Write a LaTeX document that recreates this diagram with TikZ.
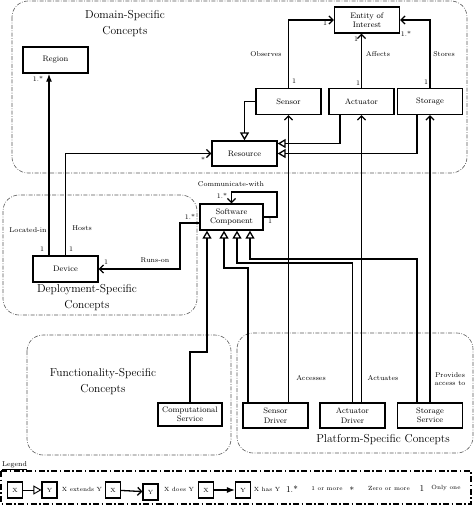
\documentclass[tikz,border=0pt]{standalone}
\usetikzlibrary{arrows.meta}
\usetikzlibrary{positioning}
\begin{document}
\begin{tikzpicture}
[every node/.style={font=\fontsize{8}{9.5}\selectfont},x=1pt,y=-1pt,
  ext/.style = {-{Triangle[open,length=8pt,width=9pt]},line width=1.3pt},
  does/.style = {-{Straight Barb[length=4pt,width=8pt]},line width=1.3pt},
  has/.style = {-{Latex[length=8pt,width=6pt]},line width=1.3pt},
  b/.style = {rectangle,draw,line width=1.3pt,minimum width=65pt,
        minimum height=26pt,align=center,inner sep=1pt},
  lb/.style = {rectangle,draw,line width=1.1pt,minimum width=15pt,
        minimum height=16pt,inner sep=0pt,font=\fontsize{6}{7}\selectfont},
  area/.style = {draw=black!65,rounded corners=16pt,line width=0.6pt,
        dash pattern=on 4pt off 1.5pt on 0.8pt off 1.5pt},
  ttl/.style = {font=\fontsize{11.5}{16}\selectfont,align=center},
  m/.style = {font=\scriptsize,inner sep=0pt},
  lt/.style = {inner sep=0pt,font=\fontsize{6}{7}\selectfont}]

\useasboundingbox (0,0) rectangle (474,506);

% concept areas
\draw[area] (12,1) rectangle (467,173);
\draw[area] (3,195) rectangle (197,315);
\draw[area] (27,335) rectangle (231,455);
\draw[area] (237,333) rectangle (473,453);

\node[ttl] (dom) at (125,24) {Domain-Specific\\Concepts};
\node[ttl] (dep) at (87,298) {Deployment-Specific\\Concepts};
\node[ttl] (fun) at (103,382) {Functionality-Specific\\Concepts};
\node[ttl] (pla) at (383,440) {Platform-Specific Concepts};

% concepts
\node[b] (ent) at (367,20) {Entity of\\Interest};
\node[b] (region) at (55.5,60) {Region};
\node[b] (sensor) at (288.5,101.5) {Sensor};
\node[b] (actuator) at (361.5,101.5) {Actuator};
\node[b] (storage) at (430,101.5) {Storage};
\node[b,minimum height=25pt] (resource) at (244.5,153.5) {Resource};
\node[b,minimum width=63pt] (swc) at (231.5,217) {Software\\Component};
\node[b] (device) at (65.5,269) {Device};
\node[b,minimum width=64pt,minimum height=23pt] (comp) at (190,414.5) {Computational\\Service};
\node[b,minimum height=25pt] (sdrv) at (275.5,415.5) {Sensor\\Driver};
\node[b,minimum height=25pt] (adrv) at (352.5,415.5) {Actuator\\Driver};
\node[b,minimum height=25pt] (ssrv) at (430,415.5) {Storage\\Service};

% domain relations
\draw[does] (sensor.north) |- (ent.west);
\draw[does] (actuator.north) -- (actuator.north |- ent.south);
\draw[does] (storage.north) |- (ent.east);
\draw[ext] (sensor.west) -| (resource.north);
\draw[ext] ([xshift=-21.5pt]actuator.south) |- ([yshift=10pt]resource.east);
\draw[ext] ([xshift=-13pt]storage.south) |- (resource.east);

\node[m] (obs) at (266,54) {Observes};
\node[m] (aff) at (378,54) {Affects};
\node[m] (sto) at (444,54) {Stores};
\node[m] (obs-a) at (325,23) {1};
\node[m] (obs-b) at (294,81) {1};
\node[m] (aff-a) at (356,39) {1};
\node[m] (aff-b) at (358,83) {1};
\node[m] (sto-a) at (406,34) {1.*};
\node[m] (sto-b) at (426,82) {1};

% deployment relations
\coordinate (li) at ([xshift=-16.5pt]device.north);
\draw[has] (li) -- (li |- region.south);
\draw[does] (device.north) |- (resource.west);
\draw[does] ([yshift=-6pt]swc.west) -- (180,223) |- (device.east);
\draw[does] (swc.east) -| (277,192) -| (swc.north);

\node[m] (loc) at (28,230) {Located-in};
\node[m] (hos) at (82,228) {Hosts};
\node[m] (run) at (155,260) {Runs-on};
\node[m] (com) at (231,184) {Communicate-with};
\node[m] (loc-a) at (38,79) {1.*};
\node[m] (loc-b) at (42,249) {1};
\node[m] (hos-b) at (71,249) {1};
\node[m] (hos-a) at (203,160) {*};
\node[m] (run-a) at (106,262) {1};
\node[m] (run-b) at (190,217) {1.*};
\node[m] (com-a) at (222,196) {1.*};
\node[m] (com-b) at (270,221) {1};

% software extensions
\draw[ext] (comp.north) |- (207,352) -- ([xshift=-24.5pt]swc.south);
\draw[ext] ([xshift=-27.5pt]sdrv.north) |- (224,268) -- ([xshift=-7.5pt]swc.south);
\draw[ext] (adrv.north) |- (237,263) -- ([xshift=5.5pt]swc.south);
\draw[ext] ([xshift=-13pt]ssrv.north) |- (250,259) -- ([xshift=18.5pt]swc.south);

% platform relations
\draw[does] (sensor.south |- sdrv.north) -- (sensor.south);
\draw[does] (actuator.south |- adrv.north) -- (actuator.south);
\draw[does] (storage.south |- ssrv.north) -- (storage.south);

\node[m] (acc) at (311,378) {Accesses};
\node[m] (act) at (383,378) {Actuates};
\node[m,align=center] (pro) at (450,379) {Provides\\access to};

% legend
\node[anchor=west,inner sep=0pt,font=\scriptsize] (legend) at (2,466) {\underline{Legend}};
\draw[line width=1.2pt,dash pattern=on 6pt off 2.5pt on 1.5pt off 2.5pt] (1,471) rectangle (471,504);

\node[lb] (x1) at (15,490) {X};
\node[lb] (y1) at (49.5,490) {Y};
\draw[ext,line width=0.9pt] (x1) -- (y1);
\node[lt] (t1) at (82,489) {X extends Y};
\node[lb] (x2) at (113,490) {X};
\node[lb] (y2) at (150.5,492) {Y};
\draw[does] (x2) -- (y2);
\node[lt] (t2) at (179,489) {X does Y};
\node[lb] (x3) at (206,490) {X};
\node[lb] (y3) at (243,490) {Y};
\draw[has] (x3) -- (y3);
\node[lt] (t3) at (267,489) {X has Y};
\node[inner sep=0pt,font=\small] (n1) at (292,489) {1.*};
\node[lt] (t4) at (327,489) {1 or more};
\node[inner sep=0pt,font=\small] (n2) at (352,490) {*};
\node[lt] (t5) at (389,488) {Zero or more};
\node[inner sep=0pt,font=\small] (n3) at (422,488) {1};
\node[lt] (t6) at (446,488) {Only one};
\end{tikzpicture}
\end{document}
